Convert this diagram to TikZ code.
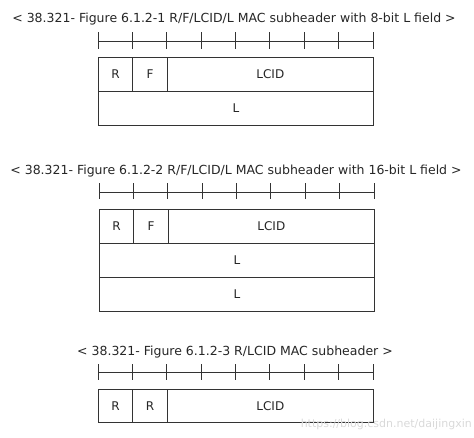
\documentclass[tikz,border=0pt]{standalone}
\usepackage{fontspec}
\setmainfont{DejaVu Sans}
\begin{document}
\begin{tikzpicture}[x=1pt,y=-1pt,
  rule/.style={draw=black!80,line width=0.9pt},
  cell/.style={draw=black!80,line width=0.9pt,minimum height=34pt,inner sep=0pt,anchor=north west,font=\fontsize{12}{14}\selectfont,text=black!85},
  ttl/.style={font=\fontsize{12.5}{14}\selectfont,text=black!85,inner sep=0pt}]
\useasboundingbox (0,0) rectangle (474,437);
% ---------- Figure 1 ----------
\node[ttl] (t1) at (234,19) {< 38.321- Figure 6.1.2-1 R/F/LCID/L MAC subheader with 8-bit L field >};
\draw[rule] (98,41) -- (373,41);
\foreach \i in {0,...,8} \draw[rule] ({98+\i*34.375},32) -- ({98+\i*34.375},49);
\node[cell,minimum width=34.375pt] (a1) at (98,57) {R};
\node[cell,minimum width=34.375pt] (a2) at (132.375,57) {F};
\node[cell,minimum width=206.25pt] (a3) at (166.75,57) {LCID};
\node[cell,minimum width=275pt] (a4) at (98,91) {L};
% ---------- Figure 2 ----------
\node[ttl] (t2) at (236,171) {< 38.321- Figure 6.1.2-2 R/F/LCID/L MAC subheader with 16-bit L field >};
\draw[rule] (99,192) -- (374,192);
\foreach \i in {0,...,8} \draw[rule] ({99+\i*34.375},183) -- ({99+\i*34.375},199);
\node[cell,minimum width=34.375pt] (b1) at (99,209) {R};
\node[cell,minimum width=34.375pt] (b2) at (133.375,209) {F};
\node[cell,minimum width=206.25pt] (b3) at (167.75,209) {LCID};
\node[cell,minimum width=275pt] (b4) at (99,243) {L};
\node[cell,minimum width=275pt] (b5) at (99,277) {L};
% ---------- Figure 3 ----------
\node[ttl] (t3) at (235,352) {< 38.321- Figure 6.1.2-3 R/LCID MAC subheader >};
\draw[rule] (98,372) -- (373,372);
\foreach \i in {0,...,8} \draw[rule] ({98+\i*34.375},364) -- ({98+\i*34.375},380);
\node[cell,minimum width=34.375pt,minimum height=33pt] (c1) at (98,389) {R};
\node[cell,minimum width=34.375pt,minimum height=33pt] (c2) at (132.375,389) {R};
\node[cell,minimum width=206.25pt,minimum height=33pt] (c3) at (166.75,389) {LCID};
% watermark
\node[font=\fontsize{11}{13}\selectfont,text=black!15,inner sep=0pt,anchor=east] (wm) at (472,424) {https://blog.csdn.net/daijingxin};
\end{tikzpicture}
\end{document}
